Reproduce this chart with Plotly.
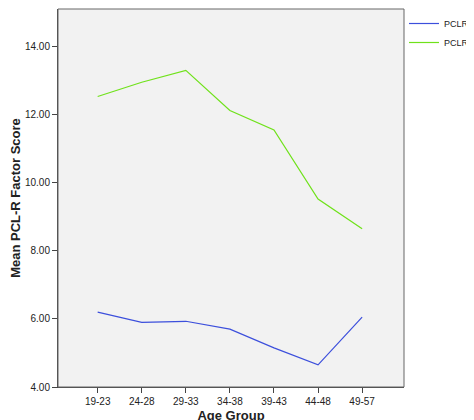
import plotly.graph_objects as go

groups = ["19-23", "24-28", "29-33", "34-38", "39-43", "44-48", "49-57"]
factor1 = [6.20, 5.90, 5.93, 5.70, 5.15, 4.65, 6.05]
factor2 = [12.53, 12.95, 13.30, 12.12, 11.55, 9.52, 8.65]

fig = go.Figure()
fig.add_trace(go.Scatter(x=groups, y=factor1, mode="lines", name="PCLR_Factor1",
                         line=dict(color="#3c4fdc", width=1.2)))
fig.add_trace(go.Scatter(x=groups, y=factor2, mode="lines", name="PCLR_Factor2",
                         line=dict(color="#6fe21a", width=1.2)))
fig.update_layout(
    width=474, height=420, margin=dict(l=50, r=78, t=1, b=41, autoexpand=False),
    paper_bgcolor="white", plot_bgcolor="#f2f2f2",
    font=dict(family="Liberation Sans", size=10, color="#222"),
    legend=dict(x=1.0, y=1.0, xanchor="left", yanchor="top", font=dict(size=9),
                bgcolor="rgba(0,0,0,0)", tracegroupgap=0, itemwidth=30,
                entrywidth=70, borderwidth=0),
    xaxis=dict(title=dict(text="<b>Age Group</b>", font=dict(size=13), standoff=4),
               automargin=False,
               range=[-0.9, 6.95], showgrid=False, showline=True, linecolor="#444",
               linewidth=1, ticks="outside", ticklen=5, tickcolor="#444", mirror=False),
    yaxis=dict(title=dict(text="<b>Mean PCL-R Factor Score</b>", font=dict(size=13), standoff=4),
               automargin=False,
               range=[4, 15.1], tickvals=[4, 6, 8, 10, 12, 14], tickformat=".2f",
               showgrid=False, showline=True, linecolor="#444", linewidth=1,
               ticks="outside", ticklen=5, tickcolor="#444", zeroline=False),
)
fig.add_shape(type="rect", xref="paper", yref="paper", x0=0, x1=1, y0=0, y1=1,
              line=dict(color="#666", width=1))
fig.write_html("out.html")
